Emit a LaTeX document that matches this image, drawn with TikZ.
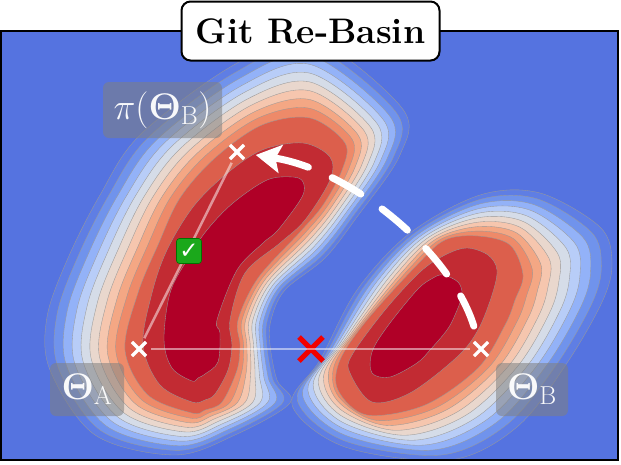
\RequirePackage{fix-cm}
\documentclass[tikz,border=0pt]{standalone}
\usepackage[no-math]{fontspec}
\newfontfamily\chkfont{DejaVu Sans}
\usetikzlibrary{shapes.misc,arrows.meta}
\definecolor{bgb}{HTML}{5573E0}
\definecolor{cA}{HTML}{5F7EE4}
\definecolor{cB}{HTML}{7093EC}
\definecolor{cC}{HTML}{93B2F8}
\definecolor{cD}{HTML}{B8CDF8}
\definecolor{cE}{HTML}{D5DCE8}
\definecolor{cF}{HTML}{E9D7CD}
\definecolor{cG}{HTML}{F6C6AE}
\definecolor{cH}{HTML}{F4A784}
\definecolor{cI}{HTML}{EE8A69}
\definecolor{cJ}{HTML}{DC5F4C}
\definecolor{cK}{HTML}{C22B33}
\definecolor{cL}{HTML}{B00027}
\definecolor{okgreen}{HTML}{1BA81B}
\tikzset{
  contourline/.style={draw=black!40,line width=.35pt,line join=round},
  tag/.style={fill=gray,fill opacity=.55,rounded corners=6pt,text=white,text opacity=.95,inner sep=0pt,font=\fontsize{37}{40}\selectfont},
  whitecross/.style={cross out,draw=white,line width=3.2pt,minimum size=11pt,inner sep=0pt},
  redcross/.style={cross out,draw=red!95!black,line width=5pt,minimum size=19pt,inner sep=0pt},
  straight/.style={white,opacity=.5,line width=2.5pt},
}
% left blob: outer, b9, b10, inner
\def\LAx{{175,95,50,47,68,100,140,232,310,402,400,357,325,285,271,270,277,290,235}}
\def\LAy{{455,435,370,317,258,195,135,66,38,108,155,217,258,290,320,345,380,403,435}}
\def\LBx{{192,148,125,138,158,180,215,262,310,345,342,323,300,258,238,240,237,222,205}}
\def\LBy{{413,395,350,293,245,198,158,125,118,143,170,205,232,278,320,345,370,402,410}}
\def\LDx{{192,160,143,152,167,193,225,262,303,330,330,305,280,245,230,232,228,215,205}}
\def\LDy{{402,385,345,293,250,207,175,150,143,157,180,220,243,273,320,345,370,394,400}}
\def\LCx{{192,172,164,170,187,207,233,267,293,303,302,278,263,237,217,220,218,205,198}}
\def\LCy{{381,368,340,293,260,230,203,180,177,182,197,230,243,270,320,333,362,374,378}}
% right blob
\def\RAx{{480,540,600,612,603,567,517,450,345,292,320,357,410}}
\def\RAy{{195,193,227,262,300,363,427,460,447,405,360,290,233}}
\def\RBx{{478,510,523,515,505,478,425,367,338,340,367,417,445}}
\def\RBy{{236,245,275,300,325,368,405,415,390,360,320,265,240}}
\def\RDx{{467,488,497,492,478,457,410,372,350,352,385,420,445}}
\def\RDy{{248,255,270,295,330,357,393,402,373,355,310,272,255}}
\def\RCx{{443,458,462,455,447,430,417,390,372,372,387,417,433}}
\def\RCy{{275,282,295,315,330,350,363,377,373,352,327,290,278}}
\newcommand\lev[7]{% colour, n, Ax, Ay, Bx, By, t
  \draw[contourline,fill=#1] plot[smooth cycle,tension=.55,samples at={0,...,#2},variable=\i]
    ({(1-#7)*#3[\i]+#7*#5[\i]},{(1-#7)*#4[\i]+#7*#6[\i]});}
\newcommand\both[2]{% colour, t
  \lev{#1}{18}{\LAx}{\LAy}{\LBx}{\LBy}{#2}\lev{#1}{12}{\RAx}{\RAy}{\RBx}{\RBy}{#2}}
\begin{document}
\begin{tikzpicture}[x=1pt,y=-1pt]
\useasboundingbox (0,0) rectangle (621,464);
\begin{scope}
  \clip (1,31) rectangle (618,459);
  \fill[bgb] (1,31) rectangle (618,459);
  \both{cA}{0}
  \both{cB}{.11}
  \both{cC}{.22}
  \both{cD}{.33}
  \both{cE}{.44}
  \both{cF}{.55}
  \both{cG}{.66}
  \both{cH}{.77}
  \both{cI}{.88}
  \both{cJ}{1}
  \lev{cK}{18}{\LDx}{\LDy}{\LDx}{\LDy}{0}\lev{cK}{12}{\RDx}{\RDy}{\RDx}{\RDy}{0}
  \lev{cL}{18}{\LCx}{\LCy}{\LCx}{\LCy}{0}\lev{cL}{12}{\RCx}{\RCy}{\RCx}{\RCy}{0}
\end{scope}
\draw[black,line width=2.5pt] (1,31) rectangle (618,460);
\node[tag,minimum width=119pt,minimum height=56pt] (lpi) at (162.5,110) {$\pi(\mathbf{\Theta}_{\mathrm{B}})$};
\node[tag,minimum width=74pt,minimum height=53pt] (la) at (87,389.5) {$\mathbf{\Theta}_{\mathrm{A}}$};
\node[tag,minimum width=72pt,minimum height=53pt] (lb) at (532,389.5) {$\mathbf{\Theta}_{\mathrm{B}}$};
\node[whitecross] (A) at (139,349) {};
\node[whitecross] (B) at (481,349) {};
\node[whitecross] (P) at (237,152) {};
\node[redcross] (X) at (311,349) {};
\draw[straight,shorten <=12pt,shorten >=11pt] (A.center) -- (B.center);
\draw[straight,shorten <=12pt,shorten >=12pt] (A.center) -- (P.center);
\draw[white,line width=7pt,line cap=round,dash pattern=on 33pt off 26pt,shorten <=24pt,shorten >=19pt,-{Stealth[length=25pt,width=28pt,inset=5pt]}]
  (B.center) .. controls (450,250) and (350,170) .. (P.center);
\node[fill=okgreen,draw=green!45!black,line width=.6pt,rounded corners=3pt,minimum size=25pt,inner sep=0pt,text=white,font=\chkfont\bfseries\fontsize{23}{23}\selectfont] (chk) at (189,251) {✓};
\node[draw=black,fill=white,line width=2pt,rounded corners=9pt,minimum width=258pt,minimum height=59pt,inner sep=0pt,font=\fontsize{35.5}{38}\selectfont\bfseries] (title) at (310.5,31) {Git Re-Basin};
\end{tikzpicture}
\end{document}
